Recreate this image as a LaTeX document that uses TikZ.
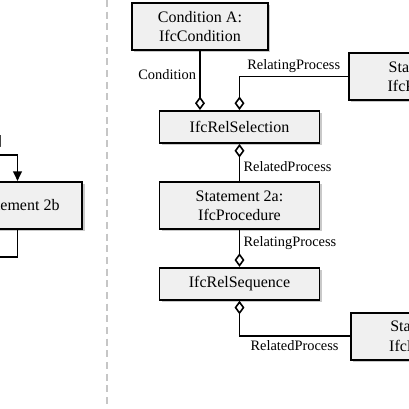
\documentclass[tikz,border=0pt]{standalone}
\usepackage{fontspec}
\setmainfont{Liberation Serif}
\usetikzlibrary{positioning, arrows.meta, shadows}

\begin{document}
\begin{tikzpicture}[x=0.625pt, y=-0.625pt, on grid, line width=1pt,
    box/.style={draw, line width=1.2pt, fill=gray!12, minimum width=100pt, minimum height=20pt, align=center,
        drop shadow={shadow xshift=1.4pt, shadow yshift=-1.4pt, opacity=0.35, fill=black!60}},
    tall/.style={minimum height=29.4pt},
    agg/.style={{Diamond[open, length=8.5pt, width=6.2pt]}-},
    flow/.style={-{Triangle[length=6pt, width=5.5pt]}},
    lbl/.style={inner sep=2pt, font=\small},
    sep/.style={draw=gray!45, line width=1.2pt, dash pattern=on 4.4pt off 2.9pt}]
    \useasboundingbox (0,0) rectangle (409,409);
    \clip (0,0) rectangle (409,409);
    \fill[white] (0,0) rectangle (409,409);

    \node[box] (sel) at (239.5,127) {IfcRelSelection};
    \node[box, tall, minimum width=85pt, above left=62.8pt and 24.7pt of sel] (condA) {Condition A:\\IfcCondition};
    \node[box, tall, below=49pt of sel] (st2a) {Statement 2a:\\IfcProcedure};
    \node[box, below=49pt of st2a] (seq) {IfcRelSequence};
    \node[box, tall, above right=31.6pt and 118.4pt of sel] (stTop) {Statement 2:\\IfcProcedure};
    \node[box, tall, below right=32.8pt and 119.4pt of seq] (stBot) {Statement 3:\\IfcProcedure};
    \node[box, tall, minimum width=81pt, left=138.75pt of st2a] (st2b) {Statement 2b};

    \coordinate (inL) at (-60,155);
    \coordinate (outL) at (-60,257);
    \node[lbl, anchor=south east] (guard) at (6,151) {[else]};

    \draw[sep] (107,0) -- (107,409);

    \draw[agg] (sel.north -| condA.south) -- (condA.south) node[lbl, pos=0.6, left] {Condition};
    \draw[agg] (sel.north) |- (stTop.west) node[lbl, pos=0.75, above] {RelatingProcess};
    \draw[agg] (sel.south) -- (st2a.north) node[lbl, pos=0.6, right] {RelatedProcess};
    \draw[agg] (seq.north) -- (st2a.south) node[lbl, pos=0.64, right] {RelatingProcess};
    \draw[agg] (seq.south) |- (stBot.west) node[lbl, pos=0.75, below] {RelatedProcess};

    \draw[flow] (inL) -| (st2b.north);
    \draw (st2b.south) |- (outL);
\end{tikzpicture}
\end{document}
